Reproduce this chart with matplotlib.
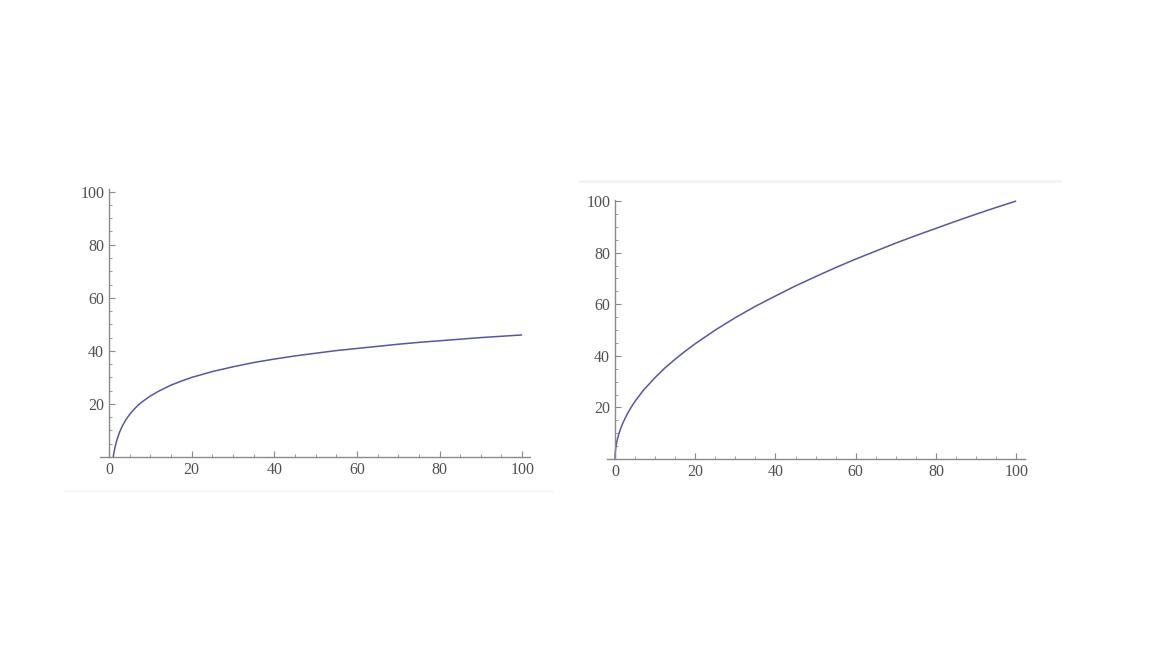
import matplotlib
matplotlib.use("Agg")
import matplotlib.pyplot as plt
from matplotlib.ticker import MultipleLocator
from matplotlib.lines import Line2D

# Data
left_x = [1, 1.1, 1.25, 1.5, 1.75, 2, 2.5, 3, 3.5, 4, 5, 6, 7, 8, 10, 12, 15, 17.5, 20,
          25, 30, 35, 40, 45, 50, 55, 60, 65, 70, 75, 80, 85, 90, 95, 100]
left_y = [0, 1.0, 2.2, 4.1, 5.6, 6.9, 9.2, 11.0, 12.5, 13.9, 16.1, 17.9, 19.5, 20.8, 23.0,
          24.8, 27.1, 28.6, 30.0, 32.2, 34.0, 35.6, 36.9, 38.1, 39.1, 40.1, 40.9, 41.7,
          42.5, 43.2, 43.8, 44.4, 45.0, 45.5, 46.0]

right_x = [0, 0.02, 0.1, 0.25, 0.5, 1, 1.5, 2, 3, 4, 5, 7, 10, 12.5, 15, 17.5, 20, 25, 30,
           35, 40, 45, 50, 55, 60, 65, 70, 75, 80, 85, 90, 95, 100]
right_y = [0, 1.4, 3.2, 5.0, 7.1, 10.0, 12.2, 14.1, 17.3, 20.0, 22.4, 26.5, 31.6, 35.4,
           38.7, 41.8, 44.7, 50.0, 54.8, 59.2, 63.2, 67.1, 70.7, 74.2, 77.5, 80.6, 83.7,
           86.6, 89.4, 92.2, 94.9, 97.5, 100.0]

x_ticks = [0, 20, 40, 60, 80, 100]
y_ticks = [20, 40, 60, 80, 100]

line_color = "#5656a6"
axis_color = "#8a8a8a"
label_color = "#505050"

fig = plt.figure(figsize=(11.75, 6.67), dpi=100)

def style(ax, xlim, ylim):
    ax.set_xlim(*xlim)
    ax.set_ylim(*ylim)
    for s in ("top", "right"):
        ax.spines[s].set_visible(False)
    ax.spines["left"].set_position(("data", 0))
    ax.spines["bottom"].set_position(("data", 0))
    for s in ("left", "bottom"):
        ax.spines[s].set_color(axis_color)
        ax.spines[s].set_linewidth(1.0)
    ax.set_xticks(x_ticks)
    ax.set_yticks(y_ticks)
    ax.xaxis.set_minor_locator(MultipleLocator(5))
    ax.yaxis.set_minor_locator(MultipleLocator(5))
    ax.tick_params(which="major", direction="in", length=4.5, width=0.8,
                   color=axis_color, labelcolor=label_color, labelsize=11.5, pad=3.5)
    ax.tick_params(which="minor", direction="in", length=2.5, width=0.6, color=axis_color)
    for lab in ax.get_xticklabels() + ax.get_yticklabels():
        lab.set_fontfamily("Liberation Serif")
    ax.patch.set_alpha(0)

ax1 = fig.add_axes([100/1175, 1 - 457/667, 430/1175, (457-189)/667])
ax1.plot(left_x, left_y, color=line_color, lw=1.1, solid_capstyle="butt")
style(ax1, (-2.2, 101.9), (0, 101))

ax2 = fig.add_axes([607/1175, 1 - 459/667, 418/1175, (459-200)/667])
ax2.plot(right_x, right_y, color=line_color, lw=1.1, solid_capstyle="butt")
style(ax2, (-2.0, 102.2), (0, 100.4))

# faint borders of the original screenshots
fig.add_artist(Line2D([64/1175, 553/1175], [1 - 491/667, 1 - 491/667], color="#f2f2f2", lw=1))
fig.add_artist(Line2D([580/1175, 1060/1175], [1 - 181/667, 1 - 181/667], color="#f2f2f2", lw=2))

fig.savefig("out.png", dpi=100)
